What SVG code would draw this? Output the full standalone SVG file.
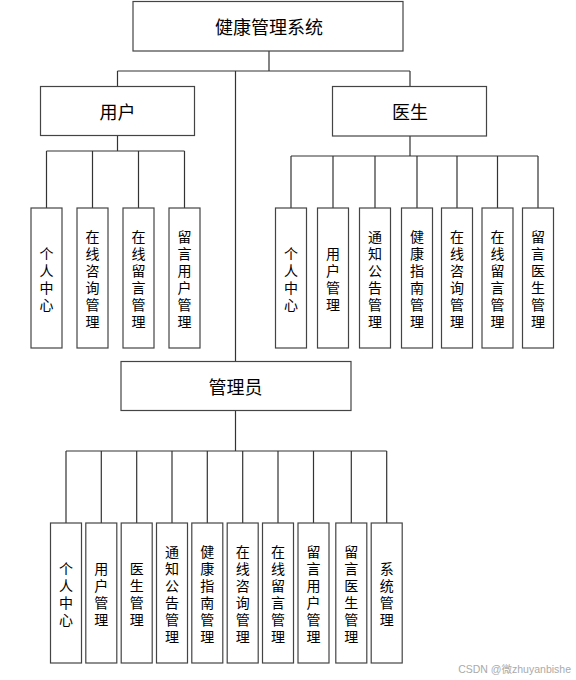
<svg xmlns="http://www.w3.org/2000/svg" width="576" height="680" viewBox="0 0 576 680">
<style>
.box{fill:#fff;stroke:#444;stroke-width:1.2}
.ln{stroke:#333;stroke-width:1.2;fill:none}
.t{font-family:"Noto Sans CJK SC","DejaVu Sans",sans-serif;fill:#000;text-anchor:middle;dominant-baseline:central}
.h{font-size:18px}
.l{font-size:14px}
.wm{font-family:"Liberation Sans","Noto Sans CJK SC",sans-serif;font-size:10.5px;fill:#aaa;text-anchor:end}
</style>
<rect width="576" height="680" fill="#fff"/>
<g id="connectors" class="ln">
<path d="M269 51V71M117.5 71H410M117.5 71V86.5M410 71V86.5M235.5 71V361.5"/>
<path d="M117.5 135.5V151M46.5 151H184.5M46.5 151V208M92.5 151V208M138.5 151V208M184.5 151V208"/>
<path d="M410 136V156M291 156H538M291 156V208M333 156V208M375 156V208M417 156V208M457 156V208M497.5 156V208M538 156V208"/>
<path d="M235.5 410.5V451M66 451H386.7M66 451V523M101.3 451V523M136.7 451V523M172 451V523M207.3 451V523M242.7 451V523M278 451V523M313.5 451V523M351.3 451V523M386.7 451V523"/>
</g>
<g id="root"><rect class="box" x="133" y="1.5" width="270" height="49.5"/><text class="t h" x="269" y="26">健康管理系统</text></g>
<g id="user"><rect class="box" x="40.5" y="86.5" width="154" height="49"/><text class="t h" x="117.5" y="111">用户</text></g>
<g id="doctor"><rect class="box" x="332.5" y="86.5" width="154" height="49.5"/><text class="t h" x="410" y="111">医生</text></g>
<g id="admin"><rect class="box" x="121" y="361.5" width="230" height="49"/><text class="t h" x="235.5" y="386">管理员</text></g>

<g id="u1"><rect class="box" x="31" y="208" width="31" height="140"/><text class="t l" x="46.5" y="252.5"><tspan x="46.5">个</tspan><tspan x="46.5" dy="17">人</tspan><tspan x="46.5" dy="17">中</tspan><tspan x="46.5" dy="17">心</tspan></text></g>
<g id="u2"><rect class="box" x="77" y="208" width="31" height="140"/><text class="t l" x="92.5" y="235.5"><tspan x="92.5">在</tspan><tspan x="92.5" dy="17">线</tspan><tspan x="92.5" dy="17">咨</tspan><tspan x="92.5" dy="17">询</tspan><tspan x="92.5" dy="17">管</tspan><tspan x="92.5" dy="17">理</tspan></text></g>
<g id="u3"><rect class="box" x="123" y="208" width="31" height="140"/><text class="t l" x="138.5" y="235.5"><tspan x="138.5">在</tspan><tspan x="138.5" dy="17">线</tspan><tspan x="138.5" dy="17">留</tspan><tspan x="138.5" dy="17">言</tspan><tspan x="138.5" dy="17">管</tspan><tspan x="138.5" dy="17">理</tspan></text></g>
<g id="u4"><rect class="box" x="169" y="208" width="31" height="140"/><text class="t l" x="184.5" y="235.5"><tspan x="184.5">留</tspan><tspan x="184.5" dy="17">言</tspan><tspan x="184.5" dy="17">用</tspan><tspan x="184.5" dy="17">户</tspan><tspan x="184.5" dy="17">管</tspan><tspan x="184.5" dy="17">理</tspan></text></g>

<g id="d1"><rect class="box" x="275.5" y="208" width="31" height="140"/><text class="t l" x="291" y="252.5"><tspan x="291">个</tspan><tspan x="291" dy="17">人</tspan><tspan x="291" dy="17">中</tspan><tspan x="291" dy="17">心</tspan></text></g>
<g id="d2"><rect class="box" x="317.5" y="208" width="31" height="140"/><text class="t l" x="333" y="252.5"><tspan x="333">用</tspan><tspan x="333" dy="17">户</tspan><tspan x="333" dy="17">管</tspan><tspan x="333" dy="17">理</tspan></text></g>
<g id="d3"><rect class="box" x="359.5" y="208" width="31" height="140"/><text class="t l" x="375" y="235.5"><tspan x="375">通</tspan><tspan x="375" dy="17">知</tspan><tspan x="375" dy="17">公</tspan><tspan x="375" dy="17">告</tspan><tspan x="375" dy="17">管</tspan><tspan x="375" dy="17">理</tspan></text></g>
<g id="d4"><rect class="box" x="401.5" y="208" width="31" height="140"/><text class="t l" x="417" y="235.5"><tspan x="417">健</tspan><tspan x="417" dy="17">康</tspan><tspan x="417" dy="17">指</tspan><tspan x="417" dy="17">南</tspan><tspan x="417" dy="17">管</tspan><tspan x="417" dy="17">理</tspan></text></g>
<g id="d5"><rect class="box" x="441.5" y="208" width="31" height="140"/><text class="t l" x="457" y="235.5"><tspan x="457">在</tspan><tspan x="457" dy="17">线</tspan><tspan x="457" dy="17">咨</tspan><tspan x="457" dy="17">询</tspan><tspan x="457" dy="17">管</tspan><tspan x="457" dy="17">理</tspan></text></g>
<g id="d6"><rect class="box" x="482" y="208" width="31" height="140"/><text class="t l" x="497.5" y="235.5"><tspan x="497.5">在</tspan><tspan x="497.5" dy="17">线</tspan><tspan x="497.5" dy="17">留</tspan><tspan x="497.5" dy="17">言</tspan><tspan x="497.5" dy="17">管</tspan><tspan x="497.5" dy="17">理</tspan></text></g>
<g id="d7"><rect class="box" x="522.5" y="208" width="31" height="140"/><text class="t l" x="538" y="235.5"><tspan x="538">留</tspan><tspan x="538" dy="17">言</tspan><tspan x="538" dy="17">医</tspan><tspan x="538" dy="17">生</tspan><tspan x="538" dy="17">管</tspan><tspan x="538" dy="17">理</tspan></text></g>

<g id="a1"><rect class="box" x="50.5" y="523" width="31" height="140"/><text class="t l" x="66" y="567.5"><tspan x="66">个</tspan><tspan x="66" dy="17">人</tspan><tspan x="66" dy="17">中</tspan><tspan x="66" dy="17">心</tspan></text></g>
<g id="a2"><rect class="box" x="85.8" y="523" width="31" height="140"/><text class="t l" x="101.3" y="567.5"><tspan x="101.3">用</tspan><tspan x="101.3" dy="17">户</tspan><tspan x="101.3" dy="17">管</tspan><tspan x="101.3" dy="17">理</tspan></text></g>
<g id="a3"><rect class="box" x="121.2" y="523" width="31" height="140"/><text class="t l" x="136.7" y="567.5"><tspan x="136.7">医</tspan><tspan x="136.7" dy="17">生</tspan><tspan x="136.7" dy="17">管</tspan><tspan x="136.7" dy="17">理</tspan></text></g>
<g id="a4"><rect class="box" x="156.5" y="523" width="31" height="140"/><text class="t l" x="172" y="550.5"><tspan x="172">通</tspan><tspan x="172" dy="17">知</tspan><tspan x="172" dy="17">公</tspan><tspan x="172" dy="17">告</tspan><tspan x="172" dy="17">管</tspan><tspan x="172" dy="17">理</tspan></text></g>
<g id="a5"><rect class="box" x="191.8" y="523" width="31" height="140"/><text class="t l" x="207.3" y="550.5"><tspan x="207.3">健</tspan><tspan x="207.3" dy="17">康</tspan><tspan x="207.3" dy="17">指</tspan><tspan x="207.3" dy="17">南</tspan><tspan x="207.3" dy="17">管</tspan><tspan x="207.3" dy="17">理</tspan></text></g>
<g id="a6"><rect class="box" x="227.2" y="523" width="31" height="140"/><text class="t l" x="242.7" y="550.5"><tspan x="242.7">在</tspan><tspan x="242.7" dy="17">线</tspan><tspan x="242.7" dy="17">咨</tspan><tspan x="242.7" dy="17">询</tspan><tspan x="242.7" dy="17">管</tspan><tspan x="242.7" dy="17">理</tspan></text></g>
<g id="a7"><rect class="box" x="262.5" y="523" width="31" height="140"/><text class="t l" x="278" y="550.5"><tspan x="278">在</tspan><tspan x="278" dy="17">线</tspan><tspan x="278" dy="17">留</tspan><tspan x="278" dy="17">言</tspan><tspan x="278" dy="17">管</tspan><tspan x="278" dy="17">理</tspan></text></g>
<g id="a8"><rect class="box" x="298" y="523" width="31" height="140"/><text class="t l" x="313.5" y="550.5"><tspan x="313.5">留</tspan><tspan x="313.5" dy="17">言</tspan><tspan x="313.5" dy="17">用</tspan><tspan x="313.5" dy="17">户</tspan><tspan x="313.5" dy="17">管</tspan><tspan x="313.5" dy="17">理</tspan></text></g>
<g id="a9"><rect class="box" x="335.8" y="523" width="31" height="140"/><text class="t l" x="351.3" y="550.5"><tspan x="351.3">留</tspan><tspan x="351.3" dy="17">言</tspan><tspan x="351.3" dy="17">医</tspan><tspan x="351.3" dy="17">生</tspan><tspan x="351.3" dy="17">管</tspan><tspan x="351.3" dy="17">理</tspan></text></g>
<g id="a10"><rect class="box" x="371.2" y="523" width="31" height="140"/><text class="t l" x="386.7" y="567.5"><tspan x="386.7">系</tspan><tspan x="386.7" dy="17">统</tspan><tspan x="386.7" dy="17">管</tspan><tspan x="386.7" dy="17">理</tspan></text></g>

<text class="wm" x="571" y="673">CSDN @微zhuyanbishe</text>
</svg>
